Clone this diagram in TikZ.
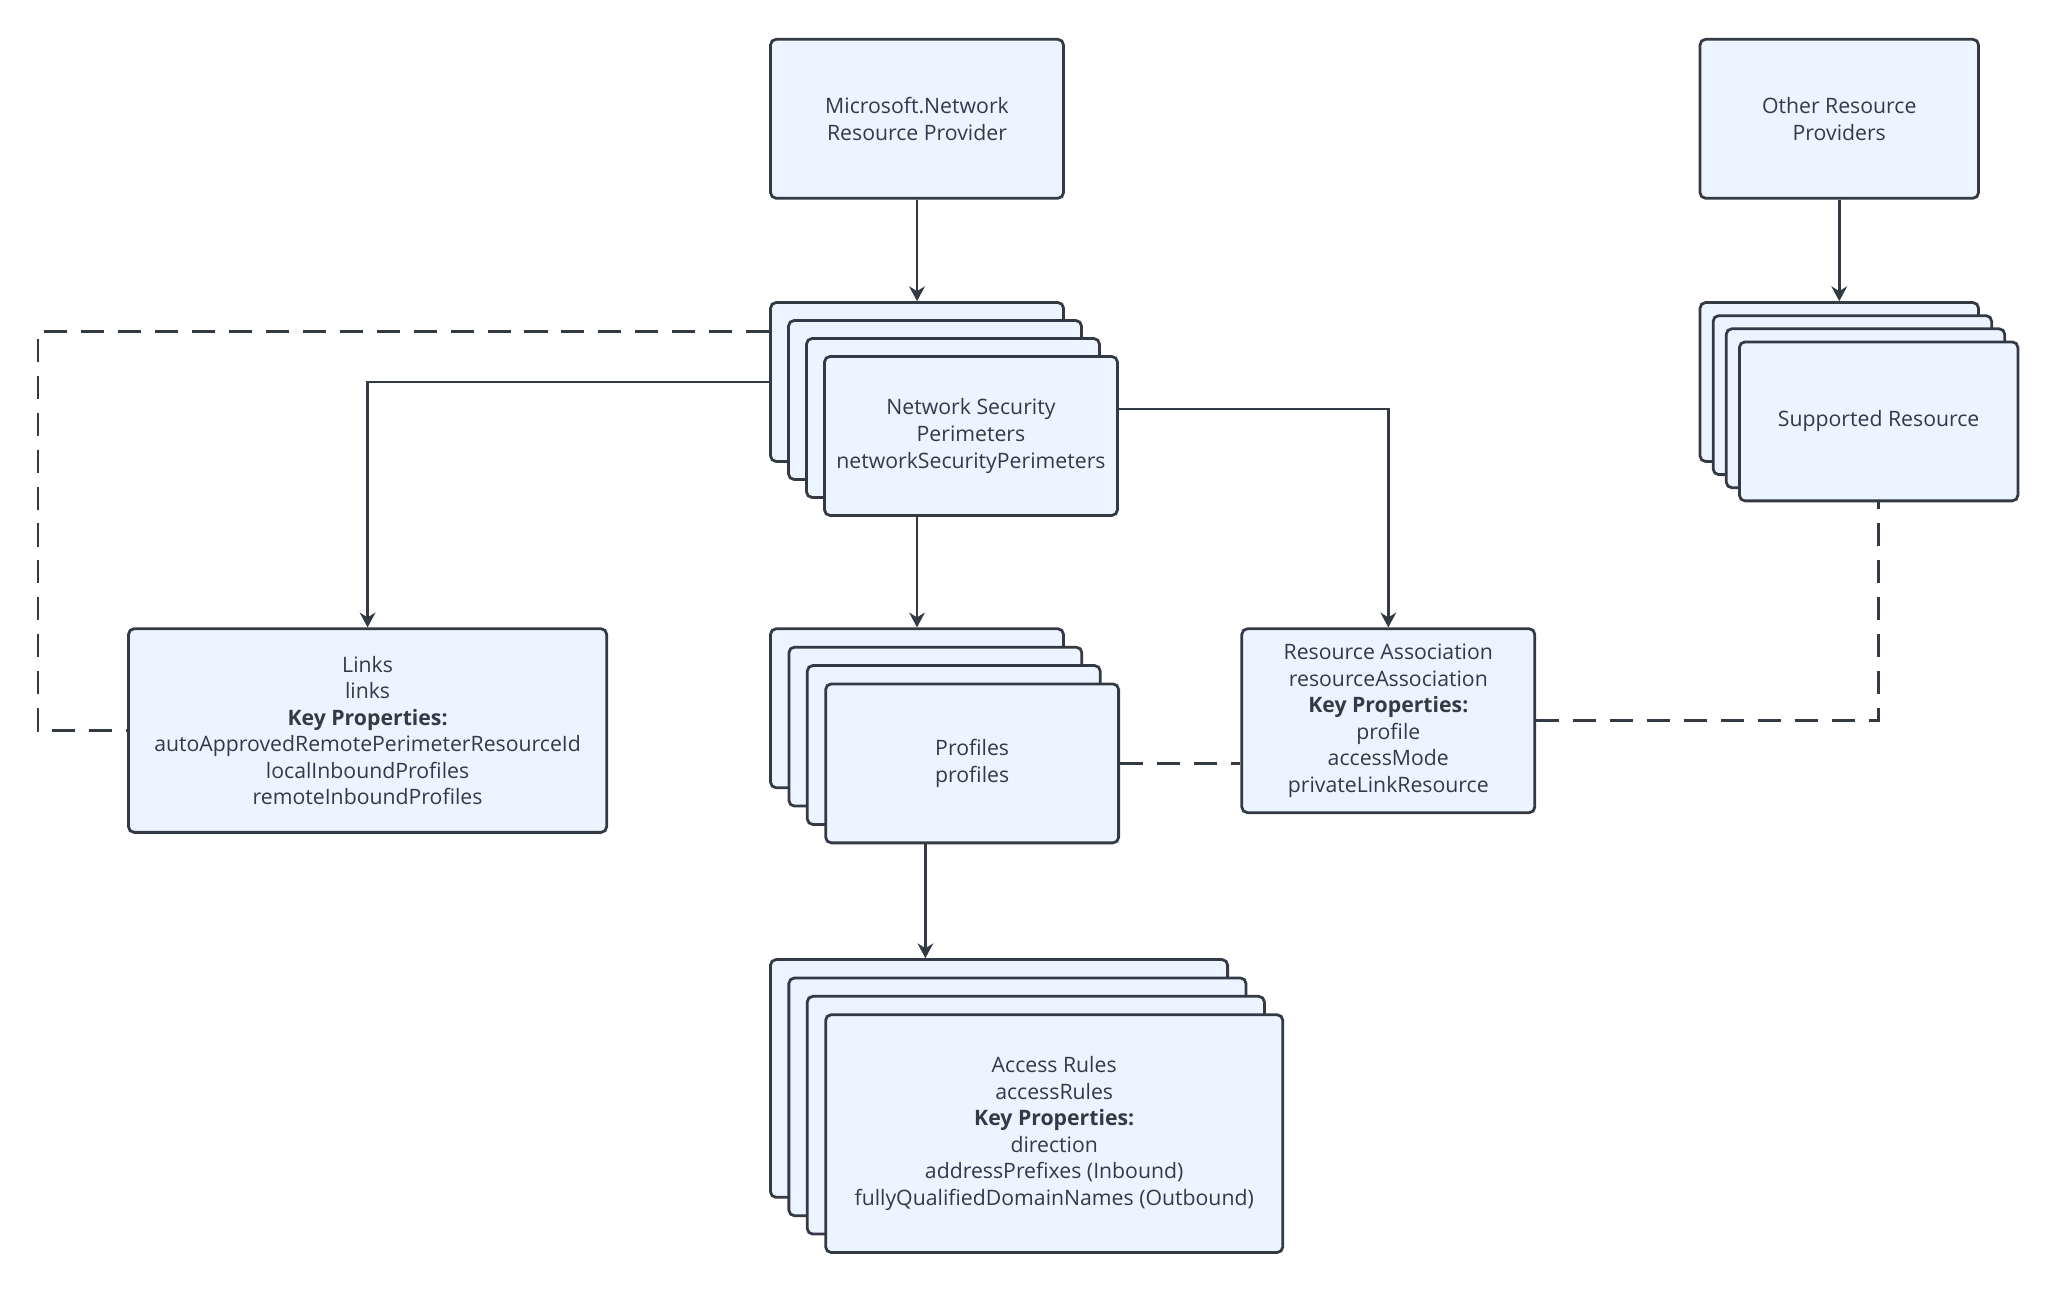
\documentclass[tikz,border=0pt]{standalone}
\usepackage{fontspec}
\setmainfont{Open Sans}
\usetikzlibrary{arrows.meta,calc,positioning}
\definecolor{cardfill}{HTML}{EDF4FF}
\definecolor{cardline}{HTML}{343A44}

\tikzset{
  card/.style={draw=cardline,fill=cardfill,line width=0.6pt,rounded corners=1.2pt,
    align=center,inner sep=0pt,font=\fontsize{4.6}{5.75}\selectfont,text=cardline},
  link/.style={draw=cardline,line width=0.6pt,-{Stealth[length=3.2pt,width=3.4pt]}},
  assoc/.style={draw=cardline,line width=0.6pt,dash pattern=on 5pt off 3pt}
}

% stack of four cards: name, x, y, offset, width, height, text
\newcommand{\cardstack}[7]{
  \foreach \i in {0,1,2}{
    \node[card,minimum width=#5,minimum height=#6] (#1\i) at ({#2+#4*\i},{#3+#4*\i}) {};
  }
  \node[card,minimum width=#5,minimum height=#6] (#13) at ({#2+#4*3},{#3+#4*3}) {#7};
}

\begin{document}
\begin{tikzpicture}[x=0.01cm,y=-0.01cm]
\useasboundingbox (0,0) rectangle (1560,983);

\node[card,minimum width=2.23cm,minimum height=1.21cm] (msn) at (698.5,90.5)
  {Microsoft.Network\\Resource Provider};
\node[card,minimum width=2.12cm,minimum height=1.21cm] (other) at (1401,90.5)
  {Other Resource\\Providers};

\cardstack{nsp}{698.5}{291}{13.7}{2.23cm}{1.21cm}{Network Security\\Perimeters\\networkSecurityPerimeters}
\cardstack{sup}{1401}{291}{10}{2.12cm}{1.21cm}{Supported Resource}
\cardstack{prof}{698.5}{539.5}{14}{2.23cm}{1.21cm}{Profiles\\profiles}
\cardstack{acc}{761}{821.5}{14}{3.48cm}{1.81cm}{Access Rules\\accessRules\\\textbf{Key Properties:}\\direction\\addressPrefixes (Inbound)\\fullyQualifiedDomainNames (Outbound)}

\node[card,minimum width=3.64cm,minimum height=1.55cm] (links) at (280,556.5)
  {Links\\links\\\textbf{Key Properties:}\\autoApprovedRemotePerimeterResourceId\\localInboundProfiles\\remoteInboundProfiles};
\node[card,minimum width=2.23cm,minimum height=1.40cm] (ra) at (1057.5,549)
  {Resource Association\\resourceAssociation\\\textbf{Key Properties:}\\profile\\accessMode\\privateLinkResource};

% solid connectors
\draw[link] (msn.south) -- (nsp0.north);
\draw[link] (other.south) -- (sup0.north);
\draw[link] (nsp0.west) -| (links.north);
\coordinate (nspout) at ($(nsp3.north east)+(0,41)$);
\draw[link] (nspout) -| (ra.north);
\draw[link] (msn.south |- nsp3.south) -- (prof0.north);
\coordinate (profout) at ($(prof3.south west)+(77,0)$);
\draw[link] (profout) -- (profout |- acc0.north);

% dashed associations
\coordinate (nspdash) at ($(nsp0.north west)+(0,23)$);
\draw[assoc] (nspdash) -- ++(-557,0) |- (links.west);
\draw[assoc] (prof3.east) -- (ra.west |- prof3.east);
\draw[assoc] (ra.east) -| (sup3.south);

\end{tikzpicture}
\end{document}
